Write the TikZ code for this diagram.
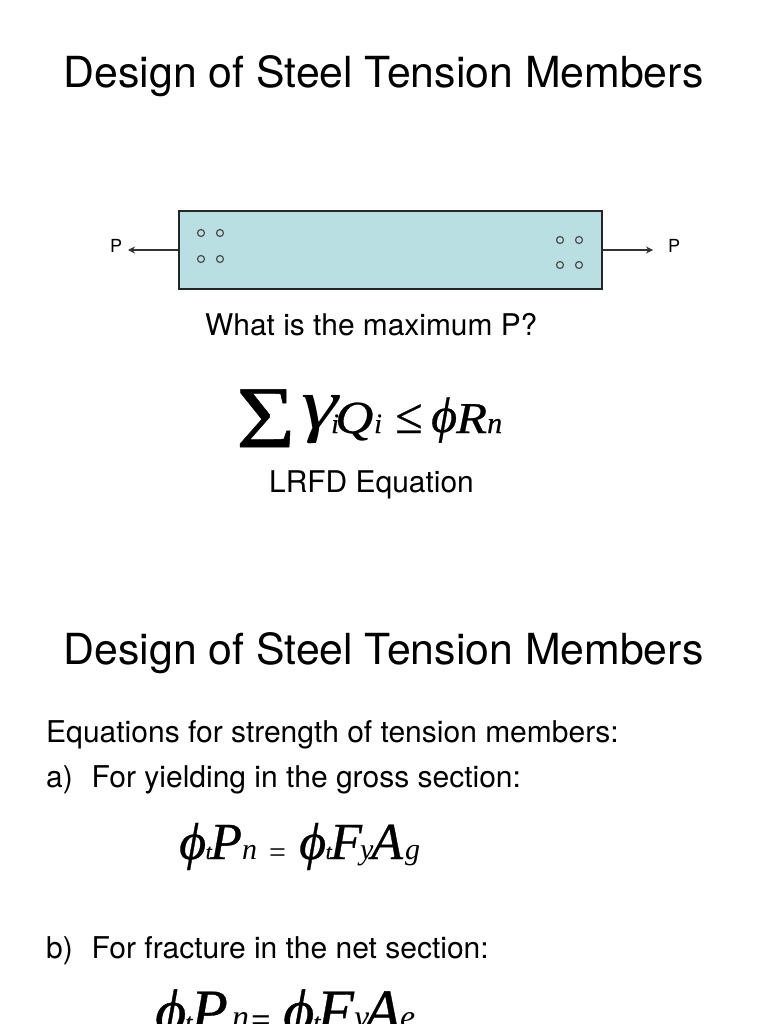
\documentclass[tikz,border=0pt]{standalone}
\usepackage{fontspec}
\setmainfont{TeX Gyre Heros}
\newfontfamily\eqfont[FakeBold=0.6]{Liberation Serif}
\newfontfamily\eqlight{Liberation Serif}
\newfontfamily\eqwide[FakeBold=0.6,FakeStretch=1.15]{Liberation Serif}
\newfontfamily\eqgamma[FakeStretch=1.3]{Liberation Serif}
\newcommand{\fs}[1]{\fontsize{#1}{#1}\selectfont}
\usetikzlibrary{arrows.meta}
\definecolor{memberfill}{RGB}{185,223,227}

\begin{document}
\begin{tikzpicture}[x=1pt,y=-1pt,
  title node/.style={anchor=base west,inner sep=0pt,font=\fs{42.8}},
  text node/.style={anchor=base west,inner sep=0pt,font=\fs{29.9}},
  body node/.style={anchor=base west,inner sep=0pt,font=\fs{30}},
  load node/.style={anchor=base west,inner sep=0pt,font=\fs{18}},
  hole node/.style={circle,draw=black!70,line width=1.2pt,inner sep=0pt,minimum size=7pt},
  eq node/.style={anchor=base west,inner sep=0pt},
  load arrow/.style={-{Stealth[length=7pt,width=7pt]},line width=1.1pt,black!80}]

  \useasboundingbox (0,0) rectangle (768,1024);
  \clip (0,0) rectangle (768,1024);

  % upper slide
  \node[title node] (title1) at (63.5,88) {Design of Steel Tension Members};

  \node[draw=black!85,fill=memberfill,line width=1.2pt,minimum width=423pt,minimum height=78pt,inner sep=0pt] (member) at (390.5,250) {};
  \foreach \x/\y [count=\i] in {201/233,220/233,201/259,220/259,560/240,579/240,560/265,579/265}
    \node[hole node] (hole\i) at (\x,\y) {};

  \node[load node] (pleft) at (110,252) {P};
  \node[load node] (pright) at (668,252) {P};
  \coordinate (tipleft) at (128,250);
  \coordinate (tipright) at (653,250);
  \draw[load arrow] (member.west) -- (tipleft);
  \draw[load arrow] (member.east) -- (tipright);

  \node[text node] (question) at (205,335) {What is the maximum P?};

  \node[eq node,font=\eqwide\fs{88}] (sum) at (236,447) {Σ};
  \node[eq node,font=\eqgamma\itshape\fs{72}] (gam) at (301,428) {γ};
  \node[eq node,font=\eqfont\itshape\fs{28}] (isub1) at (331,433) {i};
  \node[eq node,font=\eqwide\itshape\fs{46}] (qq) at (335,433) {Q};
  \node[eq node,font=\eqfont\itshape\fs{28}] (isub2) at (374,433) {i};
  \node[eq node,font=\eqfont\fs{50}] (leq) at (395,433) {≤};
  \node[eq node,font=\eqfont\itshape\fs{50}] (phi) at (431,432) {ϕ};
  \node[eq node,font=\eqwide\itshape\fs{44}] (rr) at (456,433) {R};
  \node[eq node,font=\eqfont\itshape\fs{30}] (nsub) at (487,433) {n};

  \node[text node] (caption) at (269,492.5) {LRFD Equation};

  % lower slide
  \node[title node] (title2) at (63.5,664) {Design of Steel Tension Members};
  \node[body node] (intro) at (46,742.5) {Equations for strength of tension members:};
  \node[body node] (parta) at (46,787) {a)};
  \node[body node] (partatext) at (91.5,787) {For yielding in the gross section:};

  \node[eq node,font=\eqfont\itshape\fs{52}] (phia) at (179,859) {ϕ};
  \node[eq node,font=\eqfont\itshape\fs{22}] (ta) at (205.5,859) {t};
  \node[eq node,font=\eqfont\itshape\fs{52}] (pa) at (210,859) {P};
  \node[eq node,font=\eqlight\itshape\fs{30}] (na) at (242,859) {n};
  \node[eq node,font=\eqlight\fs{30}] (eqa) at (269,862) {=};
  \node[eq node,font=\eqfont\itshape\fs{52}] (phib) at (299,859) {ϕ};
  \node[eq node,font=\eqfont\itshape\fs{22}] (tb) at (325.5,859) {t};
  \node[eq node,font=\eqfont\itshape\fs{52}] (fa) at (330,859) {F};
  \node[eq node,font=\eqlight\itshape\fs{30}] (ya) at (360,859) {y};
  \node[eq node,font=\eqfont\itshape\fs{52}] (aa) at (371,859) {A};
  \node[eq node,font=\eqlight\itshape\fs{30}] (ga) at (405,859) {g};

  \node[body node] (partb) at (46,958) {b)};
  \node[body node] (partbtext) at (91.5,958) {For fracture in the net section:};

  \node[eq node,font=\eqfont\itshape\fs{60}] (phic) at (155,1031) {ϕ};
  \node[eq node,font=\eqfont\itshape\fs{26}] (tc) at (185,1031) {t};
  \node[eq node,font=\eqfont\itshape\fs{60}] (pb) at (191,1031) {P};
  \node[eq node,font=\eqlight\itshape\fs{34}] (nb) at (232,1028) {n};
  \node[eq node,font=\eqfont\fs{34}] (eqb) at (251,1031) {=};
  \node[eq node,font=\eqfont\itshape\fs{60}] (phid) at (283,1031) {ϕ};
  \node[eq node,font=\eqfont\itshape\fs{26}] (td) at (313,1031) {t};
  \node[eq node,font=\eqfont\itshape\fs{60}] (fb) at (317,1031) {F};
  \node[eq node,font=\eqlight\itshape\fs{34}] (yb) at (354,1028) {y};
  \node[eq node,font=\eqfont\itshape\fs{60}] (ab) at (364,1031) {A};
  \node[eq node,font=\eqlight\itshape\fs{34}] (eb) at (400,1028) {e};
\end{tikzpicture}
\end{document}
